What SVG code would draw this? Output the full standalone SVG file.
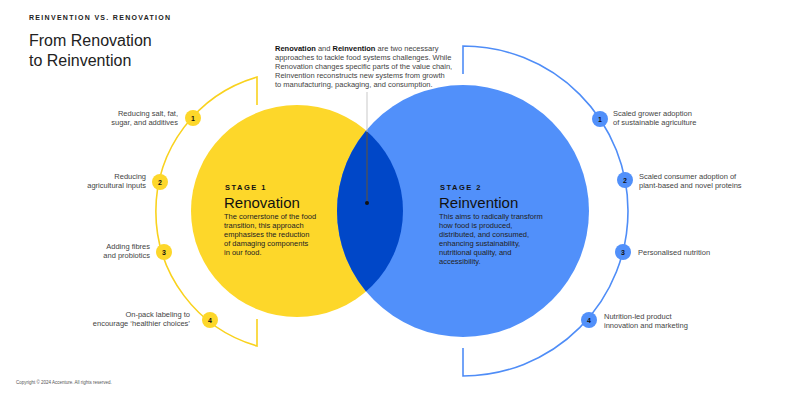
<svg xmlns="http://www.w3.org/2000/svg" width="786" height="401" viewBox="0 0 786 401">
<style>
text{font-family:"Liberation Sans",Arial,sans-serif;fill:#222}
.s{font-size:7.5px;fill:#444}
.n{font-size:7px;font-weight:bold;fill:#111;text-anchor:middle}
.ya{fill:none;stroke:#F9D21E;stroke-width:1.6}
.ba{fill:none;stroke:#4F8DF7;stroke-width:1.6}
.b{font-size:7.5px;fill:#222}
</style>
<rect width="786" height="401" fill="#fff"/>
<text x="29" y="20" style="font-size:7px;font-weight:bold;letter-spacing:1.3px">REINVENTION VS. RENOVATION</text>
<text x="29" y="46" style="font-size:16px">From Renovation</text>
<text x="29" y="66" style="font-size:16px">to Reinvention</text>
<text x="275" y="51" class="s"><tspan font-weight="bold" fill="#111">Renovation</tspan> and <tspan font-weight="bold" fill="#111">Reinvention</tspan> are two necessary</text>
<text x="275" y="60" class="s">approaches to tackle food systems challenges. While</text>
<text x="275" y="69" class="s">Renovation changes specific parts of the value chain,</text>
<text x="275" y="78" class="s">Reinvention reconstructs new systems from growth</text>
<text x="275" y="87" class="s">to manufacturing, packaging, and consumption.</text>
<g id="renovation">
<circle cx="297" cy="211" r="106" fill="#FDD72A"/>
</g>
<g id="reinvention">
<circle cx="463" cy="211" r="126" fill="#5190FA"/>
</g>
<g id="overlap">
<clipPath id="cy"><circle cx="297" cy="211" r="106"/></clipPath>
<circle cx="463" cy="211" r="126" fill="#0047C8" clip-path="url(#cy)"/>
</g>
<g id="connectors">
<line x1="367" y1="92" x2="367" y2="203" stroke="#bbb" stroke-width="0.8"/>
<line x1="367" y1="132" x2="367" y2="203" stroke="#111" stroke-width="0.8"/>
<circle cx="367" cy="203" r="2" fill="#111"/>
<path class="ya" d="M257 105 V77 A140 140 0 0 0 257 346 V319"/>
<path class="ba" d="M463 74 V46 A165 165 0 0 1 463 376 V348"/>
</g>
<g id="stage1">
<text x="225" y="190" style="font-size:7.5px;font-weight:bold;letter-spacing:1.5px;fill:#111">STAGE 1</text>
<text x="224" y="208" style="font-size:15px;fill:#111">Renovation</text>
<text x="224" y="219" class="b">The cornerstone of the food</text>
<text x="224" y="228" class="b">transition, this approach</text>
<text x="224" y="237" class="b">emphasises the reduction</text>
<text x="224" y="246" class="b">of damaging components</text>
<text x="224" y="255" class="b">in our food.</text>
</g>
<g id="stage2">
<text x="440" y="190" style="font-size:7.5px;font-weight:bold;letter-spacing:1.5px;fill:#111">STAGE 2</text>
<text x="439" y="208" style="font-size:15px;fill:#111">Reinvention</text>
<text x="439" y="219" class="b">This aims to radically transform</text>
<text x="439" y="228" class="b">how food is produced,</text>
<text x="439" y="237" class="b">distributed, and consumed,</text>
<text x="439" y="246" class="b">enhancing sustainability,</text>
<text x="439" y="255" class="b">nutritional quality, and</text>
<text x="439" y="264" class="b">accessibility.</text>
</g>
<g id="y1"><circle cx="193" cy="118" r="8" fill="#FDD72A"/><text x="193" y="121" class="n">1</text>
<text x="178" y="116" class="s" text-anchor="end">Reducing salt, fat,</text><text x="178" y="125" class="s" text-anchor="end">sugar, and additives</text></g>
<g id="y2"><circle cx="160" cy="182" r="8" fill="#FDD72A"/><text x="160" y="185" class="n">2</text>
<text x="146" y="179" class="s" text-anchor="end">Reducing</text><text x="146" y="188" class="s" text-anchor="end">agricultural inputs</text></g>
<g id="y3"><circle cx="164" cy="252" r="8" fill="#FDD72A"/><text x="164" y="255" class="n">3</text>
<text x="150" y="249" class="s" text-anchor="end">Adding fibres</text><text x="150" y="258" class="s" text-anchor="end">and probiotics</text></g>
<g id="y4"><circle cx="210" cy="320" r="8" fill="#FDD72A"/><text x="210" y="323" class="n">4</text>
<text x="190" y="317" class="s" text-anchor="end">On-pack labeling to</text><text x="190" y="326" class="s" text-anchor="end">encourage ‘healthier choices’</text></g>
<g id="b1"><circle cx="600" cy="119" r="8" fill="#5190FA"/><text x="600" y="122" class="n">1</text>
<text x="613" y="116" class="s">Scaled grower adoption</text><text x="613" y="125" class="s">of sustainable agriculture</text></g>
<g id="b2"><circle cx="625" cy="180" r="8" fill="#5190FA"/><text x="625" y="183" class="n">2</text>
<text x="639" y="179" class="s">Scaled consumer adoption of</text><text x="639" y="188" class="s">plant-based and novel proteins</text></g>
<g id="b3"><circle cx="623" cy="252" r="8" fill="#5190FA"/><text x="623" y="255" class="n">3</text>
<text x="638" y="255" class="s">Personalised nutrition</text></g>
<g id="b4"><circle cx="589" cy="320" r="8" fill="#5190FA"/><text x="589" y="323" class="n">4</text>
<text x="604" y="319" class="s">Nutrition-led product</text><text x="604" y="328" class="s">innovation and marketing</text></g>
<text x="16" y="384" style="font-size:4.5px;fill:#555">Copyright © 2024 Accenture. All rights reserved.</text>
</svg>
